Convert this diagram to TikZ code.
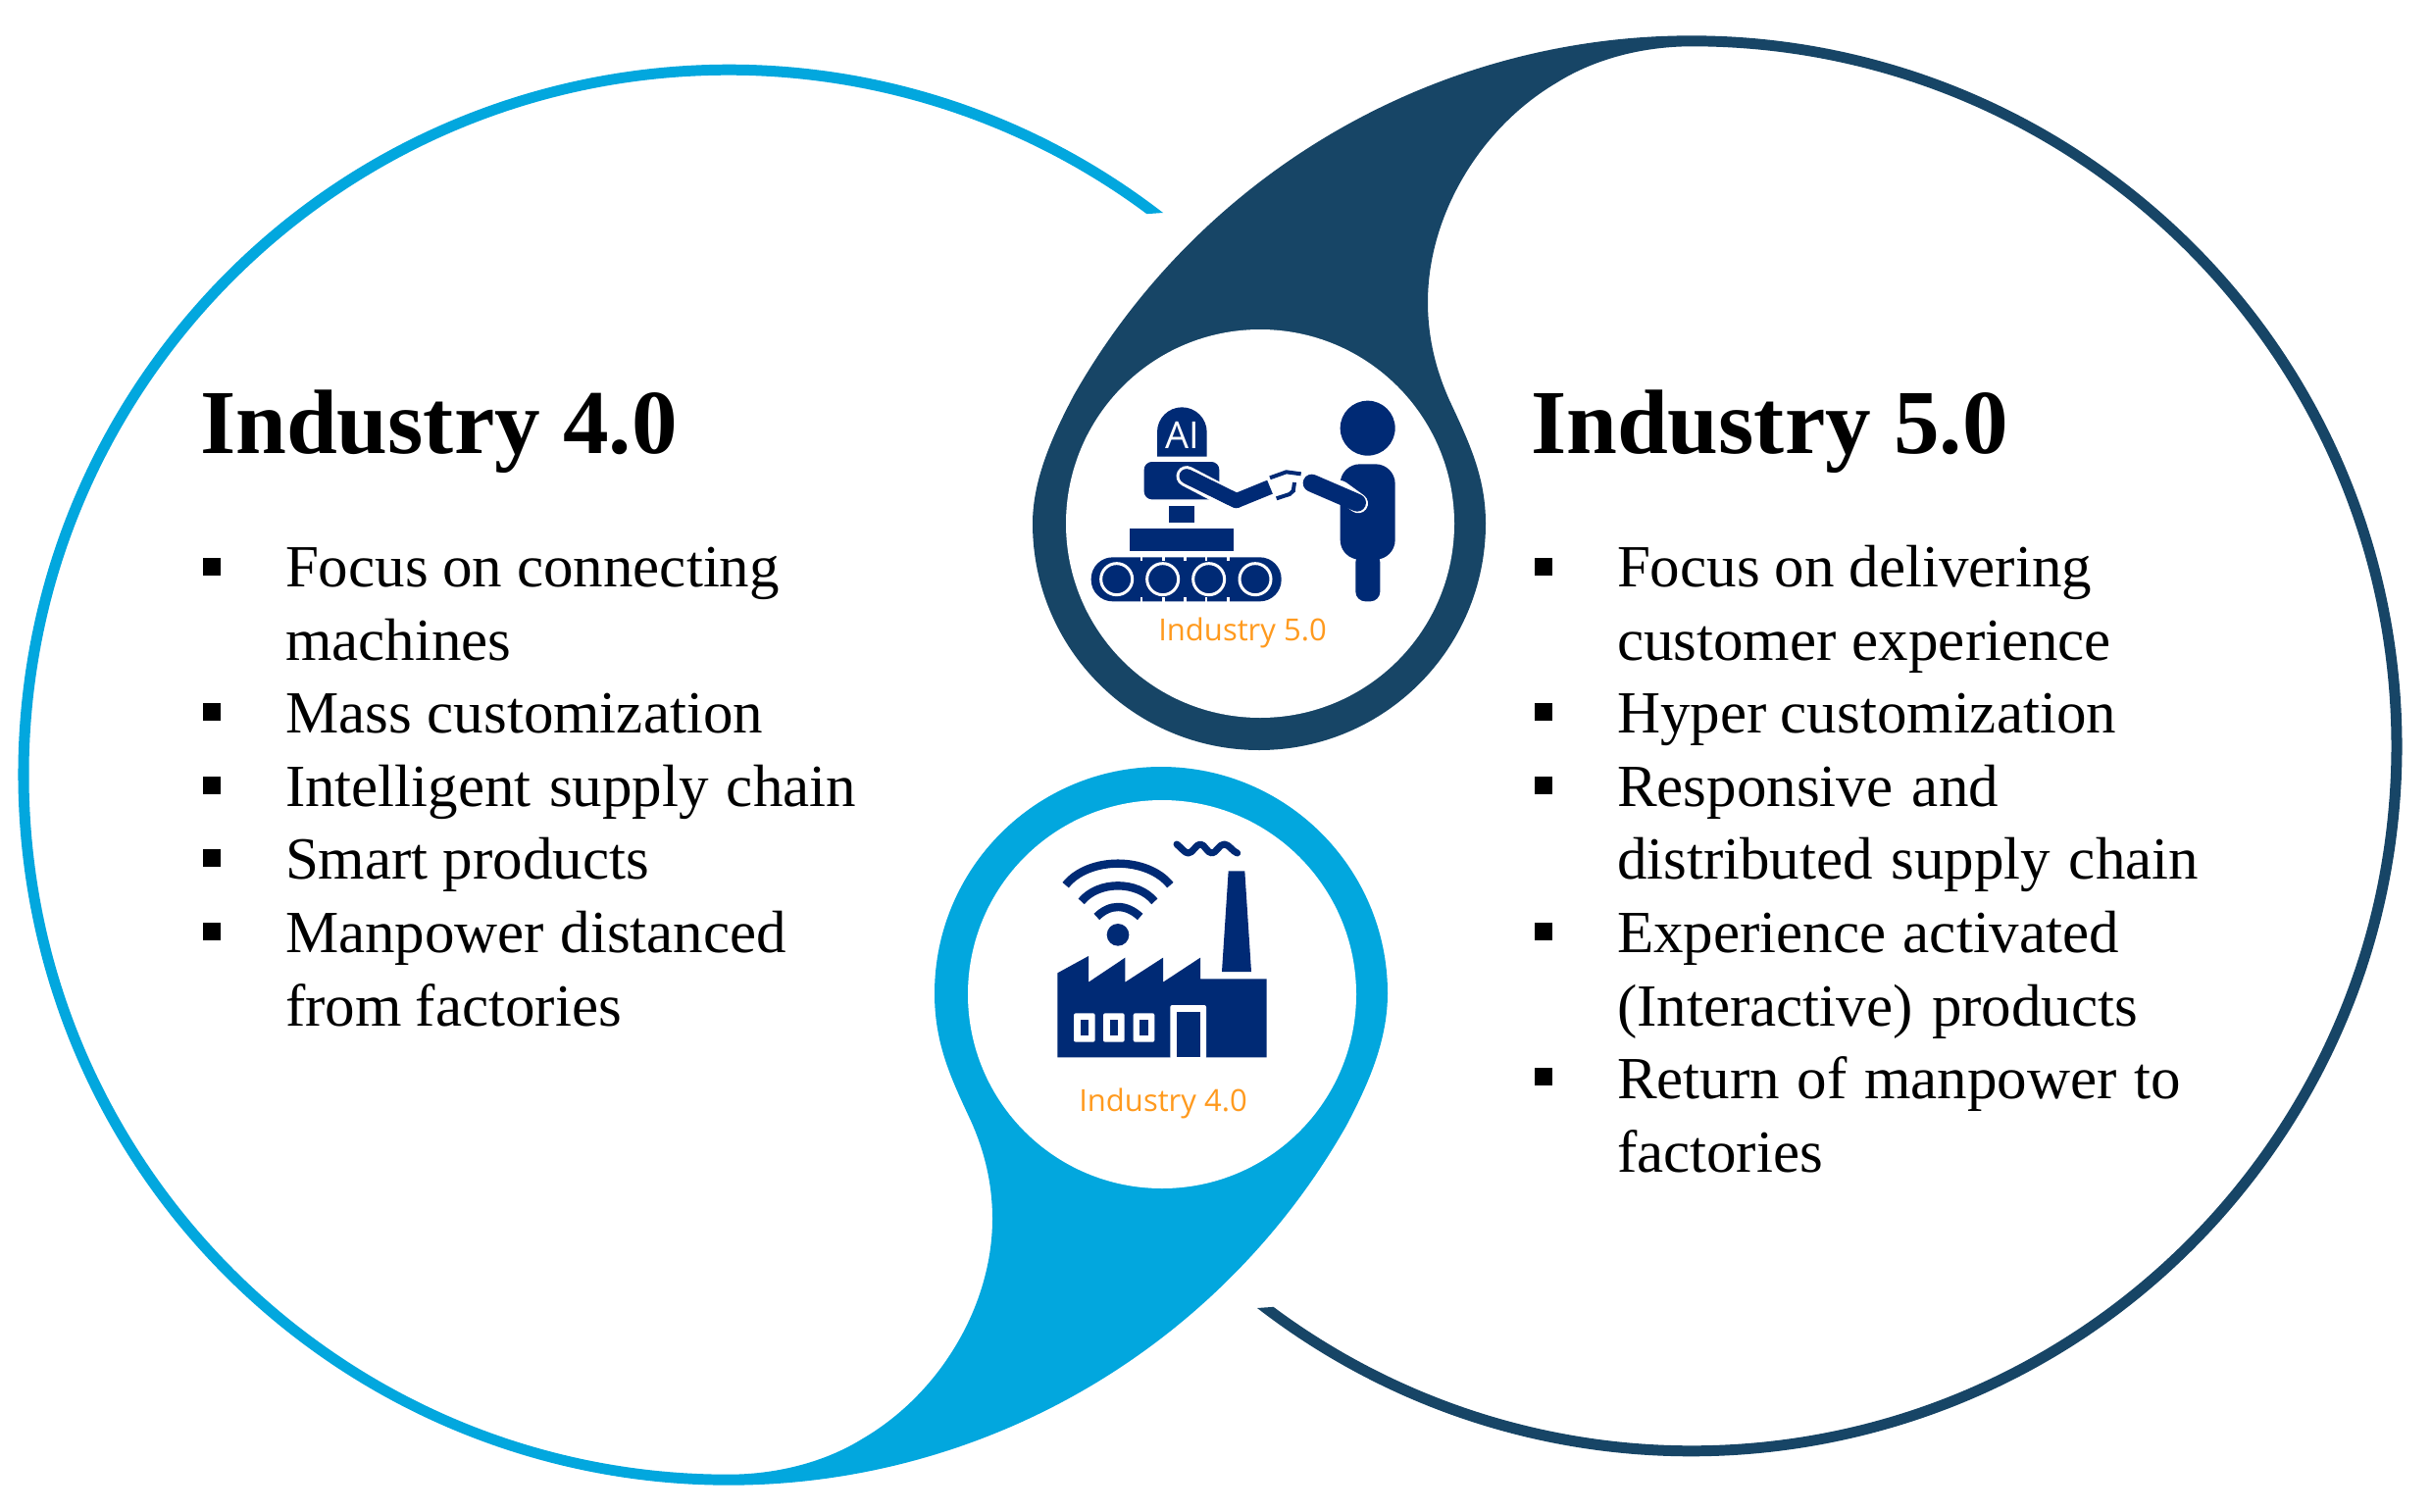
\documentclass[tikz,border=0pt]{standalone}
\usepackage{fontspec}
\setmainfont{Liberation Serif}
\newfontfamily\iconfont{Open Sans}
\definecolor{skyc}{HTML}{02A7DE}
\definecolor{navyc}{HTML}{174566}
\definecolor{iconc}{HTML}{002A75}
\definecolor{orangec}{HTML}{FF9A1E}
\newcommand{\teardrop}[1]{
  (1186,217) arc[start angle=-52.3,end angle=-330.4,radius=724.5]
  .. controls (1396.5,1103.5) and (1415,1060) .. (1415,{1013+#1})
  arc[start angle=0,end angle=-180,radius=231]
  .. controls (953,1065) and (970,1100) .. (990,1143)
  .. controls (1003,1172) and (1012,1205) .. (1012,1243)
  .. controls (1012,1330) and (960,1420) .. (880,1467)
  .. controls (840,1492) and (790,1503.7) .. (743,1503.7)
  arc[start angle=-270,end angle=-53.3,radius=713.5] -- cycle}
\newcommand{\txtline}[5]{\node[bodytext] (#1) at (#2,#3) {\makebox[\dimexpr #4pt/2\relax][s]{#5}};}
\tikzset{
  x=0.5pt,y=-0.5pt,
  bodytext/.style={anchor=base west,inner sep=0pt,outer sep=0pt,font=\fontsize{30.5}{36}\selectfont},
  titletext/.style={anchor=base west,inner sep=0pt,outer sep=0pt,font=\fontsize{46.6}{56}\selectfont\bfseries},
  icontext/.style={anchor=base,inner sep=0pt,outer sep=0pt,text=orangec,font=\fontsize{15.5}{18}\selectfont\iconfont},
  squaremark/.style={fill=black,inner sep=0pt,outer sep=0pt,minimum size=9pt,rectangle},
  iconline/.style={draw=iconc,line cap=butt},
  gap/.style={fill=white,draw=none},
}
\begin{document}
\begin{tikzpicture}
\useasboundingbox (0,0) rectangle (2479,1542);
\fill[white] (0,0) rectangle (2479,1542);
% big shapes
\fill[skyc] \teardrop{0};
\begin{scope}[rotate around={180:(1234,775.5)}]
\fill[navyc] \teardrop{4};
\end{scope}
\fill[white] (1185,1014) circle[radius=198];
\fill[white] (1285,534) circle[radius=198];
% titles
\node[titletext] (t4) at (204,462) {Industry 4.0};
\node[titletext] (t5) at (1561,462) {Industry 5.0};
% left list
\foreach \n/\y in {a/578,b/726,c/801,d/875,e/950}{\node[squaremark] (l\n) at (216,\y) {};}
\txtline{l1}{291}{598}{504}{Focus on connecting}
\txtline{l2}{291}{673}{226}{machines}
\txtline{l3}{291}{747}{487}{Mass customization}
\txtline{l4}{291}{822}{582}{Intelligent supply chain}
\txtline{l5}{291}{896}{371}{Smart products}
\txtline{l6}{291}{971}{511}{Manpower distanced}
\txtline{l7}{291}{1046}{343}{from factories}
% right list
\foreach \n/\y in {a/578,b/726,c/801,d/950,e/1098}{\node[squaremark] (r\n) at (1574,\y) {};}
\txtline{r1}{1649}{598}{484}{Focus on delivering}
\txtline{r2}{1649}{673}{504}{customer experience}
\txtline{r3}{1649}{747}{509}{Hyper customization}
\txtline{r4}{1649}{822}{389}{Responsive and}
\txtline{r5}{1649}{896}{593}{distributed supply chain}
\txtline{r6}{1649}{971}{512}{Experience activated}
\txtline{r7}{1649}{1046}{531}{(Interactive) products}
\txtline{r8}{1649}{1120}{575}{Return of manpower to}
\txtline{r9}{1649}{1195}{204}{factories}
% orange labels
\node[icontext] (lab5) at (1267,653) {Industry 5.0};
\node[icontext] (lab4) at (1186,1133) {Industry 4.0};
% robot and person icon (coordinates of the 3x crop)
\begin{scope}[shift={(1040,320)},scale=1/3]
\fill[iconc] (420,437) -- (420,362) arc[start angle=180,end angle=360,radius=76] -- (572,437) -- cycle;
\node[text=white,inner sep=0pt,font=\fontsize{19}{20}\selectfont\iconfont] (ai) at (497,372) {AI};
\fill[iconc,rounded corners=4pt] (380,453) rectangle (610,568);
\fill[iconc] (455,587) rectangle (535,640);
\fill[iconc] (337,658) rectangle (655,725);
\fill[iconc,rounded corners=11pt] (218,745) rectangle (800,880);
\foreach \gx in {372,440,505,570,638}{
  \fill[gap] (\gx-4,743) rectangle (\gx+4,757);
  \fill[gap] (\gx-4,868) rectangle (\gx+4,882);
}
\foreach \wx in {296,437,578,720}{
  \draw[white,line width=1.5pt] (\wx,812) circle[radius=48];
}
\draw[white,line width=10.5pt,line cap=round] (510,497) -- (640,565);
\draw[iconline,line width=7.5pt,line cap=round,line join=round] (510,497) -- (662,572);
\draw[iconline,line width=7.5pt,line join=round] (510,497) -- (662,572) -- (765,530);
\draw[iconline,line width=2pt] (765,502) -- (815,484) -- (860,490);
\draw[iconline,line width=2pt] (840,516) -- (836,545);
\draw[iconline,line width=2pt] (785,565) -- (825,552) -- (838,540);
\fill[iconc] (1064,350) circle[radius=84];
\fill[iconc,rounded corners=10pt] (980,460) rectangle (1148,752);
\fill[iconc,rounded corners=5pt] (1027,730) rectangle (1102,880);
\draw[white,line width=10pt,line cap=round] (980,540) -- (1035,580);
\draw[iconline,line width=9pt,line cap=round] (893,518) -- (1032,578);
\end{scope}
% factory icon (coordinates of the 3x crop)
\begin{scope}[shift={(940,780)},scale=1/3]
\fill[iconc] (415,895) -- (415,637) -- (510,585) -- (510,665) -- (622,590) -- (622,665) -- (738,590) -- (738,665) -- (852,590) -- (852,655) -- (1055,655) -- (1055,895) -- cycle;
\fill[iconc] (918,633) -- (938,325) -- (988,325) -- (1008,633) -- cycle;
\foreach \wx in {465,555,647}{
  \fill[white,rounded corners=1pt] (\wx,760) rectangle (\wx+65,848);
  \fill[iconc] (\wx+20,780) rectangle (\wx+45,828);
}
\fill[white,rounded corners=1pt] (760,735) rectangle (870,900);
\fill[iconc] (780,757) rectangle (852,895);
\fill[iconc] (600,520) circle[radius=34];
\draw[iconline,line width=4.2pt] (535,465) .. controls (575,425) and (625,425) .. (668,465);
\draw[iconline,line width=4.2pt] (488,418) .. controls (540,354) and (660,354) .. (712,418);
\draw[iconline,line width=4.2pt] (440,368) .. controls (510,280) and (690,280) .. (760,368);
\draw[iconline,line width=3.5pt,line cap=round,line join=round] (780,243) .. controls (795,255) and (805,270) .. (815,270) .. controls (830,270) and (838,243) .. (852,243) .. controls (866,243) and (872,270) .. (888,270) .. controls (900,270) and (910,243) .. (925,243) .. controls (940,243) and (950,265) .. (965,270);
\end{scope}
\end{tikzpicture}
\end{document}
